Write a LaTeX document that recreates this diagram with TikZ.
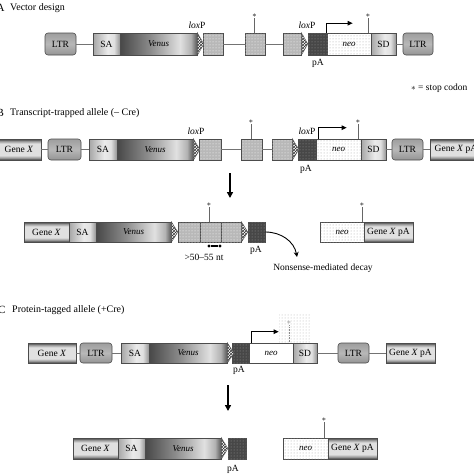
\documentclass[tikz,border=0pt]{standalone}
\usepackage{fontspec}
\setmainfont{Liberation Serif}
\usetikzlibrary{patterns,calc,arrows.meta}
\pgfdeclareverticalshading{geneshade}{100bp}{color(0bp)=(black!80); color(25bp)=(black!80); color(29bp)=(black!45); color(36bp)=(black!12); color(64bp)=(black!12); color(71bp)=(black!45); color(75bp)=(black!80); color(100bp)=(black!80)}
\pgfdeclarehorizontalshading{venusshade}{100bp}{color(0bp)=(black!72); color(25bp)=(black!72); color(45bp)=(black!45); color(64bp)=(black!12); color(71bp)=(black!30); color(75bp)=(black!65); color(100bp)=(black!65)}
\pgfdeclarehorizontalshading{sashade}{100bp}{color(0bp)=(black!35); color(25bp)=(black!35); color(52bp)=(black!8); color(64bp)=(black!12); color(75bp)=(black!42); color(100bp)=(black!42)}
\pgfdeclareverticalshading{ltrshade}{100bp}{color(0bp)=(black!42); color(25bp)=(black!42); color(50bp)=(black!28); color(75bp)=(black!38); color(100bp)=(black!38)}
\newcommand\gbox[7]{\node[#2, minimum width={(#4)-(#3)}, minimum height={(#6)-(#5)}] (#1) at ({((#3)+(#4))/2},{((#5)+(#6))/2}) {#7};}
\newcommand\chevr[1]{\filldraw[chev] (#1.north east) -- ($(#1.east)+(6.5,0)$) -- (#1.south east) -- cycle;}
\tikzset{
  every node/.style={font=\fontsize{9.5}{11}\selectfont, inner sep=1pt},
  base/.style={draw=black!70, line width=0.6pt},
  gene/.style={base, shading=geneshade},
  ltr/.style={base, shading=ltrshade, rounded corners=3pt},
  sa/.style={base, shading=sashade},
  venus/.style={base, shading=venusshade, font=\fontsize{9}{11}\selectfont\itshape},
  dotbox/.style={base, fill=black!28, postaction={pattern=dots, pattern color=white}},
  pabox/.style={base, fill=black!72, postaction={pattern=dots, pattern color=black!40}},
  neobox/.style={base, fill=white, postaction={pattern=dots, pattern color=black!35}, font=\fontsize{9}{11}\selectfont\itshape},
  neowhite/.style={base, fill=white, font=\fontsize{9}{11}\selectfont\itshape},
  fade/.style={pattern=dots, pattern color=black!30, inner sep=0pt},
  chev/.style={draw=black!70, line width=0.4pt, preaction={fill=white}, pattern=crosshatch, pattern color=black!80},
  conn/.style={draw=black!55, line width=0.8pt},
  stem/.style={draw=black!60, line width=0.6pt},
  starn/.style={inner sep=0.3pt, font=\fontsize{8}{9}\selectfont},
  prom/.style={draw=black, line width=1.1pt, -{Triangle[length=5pt,width=4.5pt]}},
  bigarrow/.style={draw=black, line width=1.6pt, -{Triangle[length=6pt,width=6pt]}},
  lbl/.style={inner sep=0.5pt},
  ttl/.style={anchor=west, font=\fontsize{10}{12}\selectfont},
  dotn/.style={circle, fill=black, inner sep=0pt, minimum size=3.4pt},
}
\begin{document}
\begin{tikzpicture}[x=1pt,y=-1pt]
\useasboundingbox (0,0) rectangle (474,474);
\fill[white] (0,0) rectangle (474,474);

% ---------- A ----------
\node[ttl, font=\fontsize{11}{12}\selectfont] (tA) at (-4.5,8) {A};
\node[ttl] (tAt) at (9,8) {Vector design};
\gbox{aLTR1}{ltr}{45}{76}{33}{55}{LTR}
\gbox{aSA}{sa}{93}{120}{33}{55}{SA}
\gbox{aVen}{venus}{120}{197}{33}{55}{Venus}
\gbox{aL1}{dotbox}{203.5}{223}{33}{55}{}
\gbox{aB2}{dotbox}{245}{265}{33}{55}{}
\gbox{aB3}{dotbox}{283}{301}{33}{55}{}
\gbox{aPA}{pabox}{308.5}{327}{33}{55}{}
\gbox{aNeo}{neobox}{327}{371}{33}{55}{neo}
\gbox{aSD}{sa}{371}{396}{33}{55}{SD}
\gbox{aLTR2}{ltr}{403}{433}{33}{55}{LTR}
\chevr{aVen}
\chevr{aB3}
\draw[conn] (aLTR1.east) -- (aSA.west);
\draw[conn] (aL1.east) -- (aB2.west);
\draw[conn] (aB2.east) -- (aB3.west);
\draw[conn] (aSD.east) -- (aLTR2.west);
\node[lbl] (aLox1) at (197,25) {\textit{lox}P};
\node[lbl] (aLox2) at (307,25) {\textit{lox}P};
\node[lbl] (aPAl) at (318,63) {pA};
\draw[prom] (aNeo.north west) |- ++(26,-9.5);
\node[starn] (aS1) at (254.5,16) {$\ast$};
\draw[stem] (aS1.south) -- (aS1.south |- aB2.north);
\node[starn] (aS2) at (368,16) {$\ast$};
\draw[stem] (aS2.south) -- (aS2.south |- aNeo.north);
\node[anchor=west] (aKey) at (410,88) {$\ast$ = stop codon};

% ---------- B ----------
\node[ttl, font=\fontsize{11}{12}\selectfont] (tB) at (-4.5,113) {B};
\node[ttl] (tBt) at (9,113) {Transcript-trapped allele (– Cre)};
\gbox{bGX1}{gene}{-3}{41}{139}{160}{Gene \textit{X}}
\gbox{bLTR1}{ltr}{48}{81}{139}{160}{LTR}
\gbox{bSA}{sa}{89}{117}{139}{160}{SA}
\gbox{bVen}{venus}{117}{193}{139}{160}{Venus}
\gbox{bL1}{dotbox}{199.5}{221}{139}{160}{}
\gbox{bB2}{dotbox}{241}{262}{139}{160}{}
\gbox{bB3}{dotbox}{272}{292}{139}{160}{}
\gbox{bPA}{pabox}{298.5}{316}{139}{160}{}
\gbox{bNeo}{neobox}{316}{361}{139}{160}{neo}
\gbox{bSD}{sa}{361}{386}{139}{160}{SD}
\gbox{bLTR2}{ltr}{392}{423}{139}{160}{LTR}
\gbox{bGX2}{gene}{430}{482}{139}{160}{Gene \textit{X} pA}
\chevr{bVen}
\chevr{bB3}
\draw[conn] (bGX1.east) -- (bLTR1.west);
\draw[conn] (bLTR1.east) -- (bSA.west);
\draw[conn] (bL1.east) -- (bB2.west);
\draw[conn] (bB2.east) -- (bB3.west);
\draw[conn] (bSD.east) -- (bLTR2.west);
\draw[conn] (bLTR2.east) -- (bGX2.west);
\node[lbl] (bLox1) at (196,131) {\textit{lox}P};
\node[lbl] (bLox2) at (307,131) {\textit{lox}P};
\node[lbl] (bPAl) at (306,169) {pA};
\draw[prom] ($(bNeo.north west)+(3,0)$) |- ++(28,-11);
\node[starn] (bS1) at (251,122) {$\ast$};
\draw[stem] (bS1.south) -- (bS1.south |- bB2.north);
\node[starn] (bS2) at (358,122) {$\ast$};
\draw[stem] (bS2.south) -- (bS2.south |- bNeo.north);
\coordinate (ar1s) at (230,173);
\coordinate (ar1e) at (230,198);
\draw[bigarrow] (ar1s) -- (ar1e);

% ---------- B2 ----------
\gbox{cGX}{gene}{24}{69}{222}{242}{Gene \textit{X}}
\gbox{cSA}{sa}{69}{96}{222}{242}{SA}
\gbox{cVen}{venus}{96}{171}{222}{242}{Venus}
\gbox{cD1}{dotbox}{178}{200}{222}{242}{}
\gbox{cD2}{dotbox}{200}{221}{222}{242}{}
\gbox{cD3}{dotbox}{221}{241}{222}{242}{}
\gbox{cPA}{pabox}{248}{265}{222}{242}{}
\chevr{cVen}
\chevr{cD3}
\node[starn] (cS1) at (209,205) {$\ast$};
\draw[stem] (cS1.south) -- (cS1.south |- cD2.north);
\node[dotn] (db1) at (209,246) {};
\node[dotn] (db2) at (220,246) {};
\draw[line width=1.2pt] (db1) -- (db2);
\node[lbl] (cNt) at (204,257) {>50–55 nt};
\node[lbl] (cPAl) at (256,250) {pA};
\coordinate (nmdEnd) at (297,257);
\draw[line width=0.9pt, -{Stealth[length=5pt,width=5pt]}] (cPA.east) to[out=0, in=100] (nmdEnd);
\node[lbl] (cNMD) at (323,268) {Nonsense-mediated decay};
\gbox{cNeo}{neobox}{320}{364}{222}{242}{neo}
\gbox{cGX2}{gene}{364}{413}{222}{242}{Gene \textit{X} pA}
\node[starn] (cS2) at (362,205) {$\ast$};
\draw[stem] (cS2.south) -- (cS2.south |- cNeo.north);

% ---------- C ----------
\node[ttl, font=\fontsize{11}{12}\selectfont] (tC) at (-3,310) {C};
\node[ttl] (tCt) at (11,310) {Protein-tagged allele (+Cre)};
\gbox{dFade}{fade}{279}{311}{313}{343}{}
\gbox{dGX1}{gene}{28}{76}{343}{363}{Gene \textit{X}}
\gbox{dLTR1}{ltr}{80}{112}{343}{363}{LTR}
\gbox{dSA}{sa}{121}{149}{343}{363}{SA}
\gbox{dVen}{venus}{149}{227}{343}{363}{Venus}
\gbox{dPA}{pabox}{232.5}{249}{343}{363}{}
\gbox{dNeo}{neowhite}{249}{293}{343}{363}{neo}
\gbox{dSD}{sa}{293}{317}{343}{363}{SD}
\gbox{dLTR2}{ltr}{338}{369}{343}{363}{LTR}
\gbox{dGX2}{gene}{386}{435}{343}{363}{Gene \textit{X} pA}
\chevr{dVen}
\draw[conn] (dGX1.east) -- (dLTR1.west);
\draw[conn] (dLTR1.east) -- (dSA.west);
\draw[conn] (dSD.east) -- (dLTR2.west);
\draw[conn] (dLTR2.east) -- (dGX2.west);
\draw[prom] ($(dNeo.north west)+(3,0)$) |- ++(27,-11);
\node[starn, text=black!45] (dS1) at (289,323) {$\ast$};
\draw[draw=black!45, line width=0.6pt, densely dotted] (dS1.south) -- (dS1.south |- dNeo.north);
\node[lbl] (dPAl) at (239,370) {pA};
\coordinate (ar2s) at (228,385);
\coordinate (ar2e) at (228,411);
\draw[bigarrow] (ar2s) -- (ar2e);

% ---------- C2 ----------
\gbox{eGX}{gene}{73}{118}{438}{459}{Gene \textit{X}}
\gbox{eSA}{sa}{118}{145}{438}{459}{SA}
\gbox{eVen}{venus}{145}{221}{438}{459}{Venus}
\gbox{ePA}{pabox}{228}{246}{438}{459}{}
\chevr{eVen}
\node[lbl] (ePAl) at (233,469) {pA};
\gbox{eNeo}{neobox}{283}{328}{438}{459}{neo}
\gbox{eGX2}{gene}{328}{377}{438}{459}{Gene \textit{X} pA}
\node[starn] (eS1) at (324,420) {$\ast$};
\draw[stem] (eS1.south) -- (eS1.south |- eNeo.north);
\end{tikzpicture}
\end{document}
